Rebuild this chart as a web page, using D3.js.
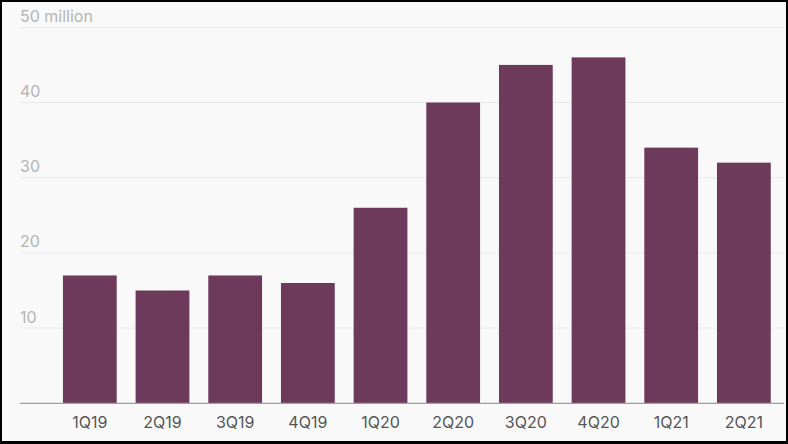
<!DOCTYPE html>
<html>
<head>
<meta charset="utf-8">
<script src="https://cdn.jsdelivr.net/npm/d3@7"></script>
<style>
  html, body { margin: 0; padding: 0; background: #000; }
  svg { display: block; }
</style>
</head>
<body>
<svg id="chart" width="788" height="444"></svg>
<script>
const categories = ["1Q19","2Q19","3Q19","4Q19","1Q20","2Q20","3Q20","4Q20","1Q21","2Q21"];
const values = [17, 15, 17, 16, 26, 40, 45, 46, 34, 32];
const tickValues = [10, 20, 30, 40, 50];
const tickLabels = ["10", "20", "30", "40", "50 million"];

(function () {
const svg = d3.select("#chart");
const W = 788, H = 444;

svg.append("rect").attr("x", 0).attr("y", 0).attr("width", W).attr("height", H).attr("fill", "#000");
svg.append("rect").attr("x", 2).attr("y", 2).attr("width", 784).attr("height", 439).attr("fill", "#f9f9f9");

const gLeft = 20, gRight = 784, yBottom = 403.3, yTop = 27.3;

const y = d3.scaleLinear().domain([0, 50]).range([yBottom, yTop]);
const x = d3.scaleBand().domain(categories).range([53.5, 780.2]).paddingInner(0.26).paddingOuter(0.13);

svg.append("g").selectAll("line").data(tickValues).join("line")
  .attr("x1", gLeft).attr("x2", gRight)
  .attr("y1", d => y(d)).attr("y2", d => y(d))
  .attr("stroke", "#e8e8e8").attr("stroke-width", 1);

svg.append("g").selectAll("text").data(tickValues).join("text")
  .attr("x", gLeft).attr("y", d => y(d) - 5.5)
  .attr("fill", "#b4b4b4")
  .attr("font-family", "Inter, 'Open Sans', sans-serif")
  .attr("font-size", 16)
  .text((d, i) => tickLabels[i]);

svg.append("g").selectAll("rect").data(values).join("rect")
  .attr("x", (d, i) => x(categories[i]))
  .attr("width", x.bandwidth())
  .attr("y", d => y(d))
  .attr("height", d => yBottom - y(d))
  .attr("fill", "#6d3a5b");

svg.append("line").attr("x1", gLeft).attr("x2", gRight).attr("y1", yBottom).attr("y2", yBottom)
  .attr("stroke", "#a0a0a0").attr("stroke-width", 1.2);

svg.append("g").selectAll("text").data(categories).join("text")
  .attr("x", d => x(d) + x.bandwidth() / 2)
  .attr("y", 428)
  .attr("text-anchor", "middle")
  .attr("fill", "#555")
  .attr("font-family", "Inter, 'Open Sans', sans-serif")
  .attr("font-size", 16)
  .text(d => d);
})();
</script>
</body>
</html>
